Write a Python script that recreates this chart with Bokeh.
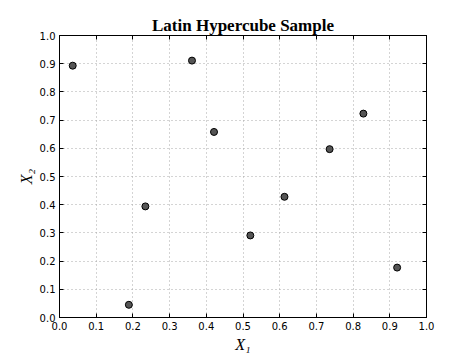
from bokeh.plotting import figure
from bokeh.models import LinearAxis, Range1d, FixedTicker
from bokeh.embed import file_html
from bokeh.resources import INLINE

x1 = [0.036, 0.361, 0.421, 0.736, 0.828, 0.234, 0.613, 0.520, 0.920, 0.189]
x2 = [0.893, 0.911, 0.658, 0.597, 0.723, 0.394, 0.428, 0.291, 0.177, 0.045]
ticks = [0.0, 0.1, 0.2, 0.3, 0.4, 0.5, 0.6, 0.7, 0.8, 0.9, 1.0]
tick_labels = {t: f"{t:.1f}" for t in ticks}

p = figure(width=474, height=355, output_backend="svg", toolbar_location=None,
           x_range=Range1d(0, 1), y_range=Range1d(0, 1),
           min_border_left=59, min_border_right=48, min_border_top=35, min_border_bottom=36,
           title="Latin Hypercube Sample")
p.title.align = "center"
p.title.text_font = "Liberation Serif"
p.title.text_font_style = "bold"
p.title.text_font_size = "17px"
p.title.text_color = "black"
p.title.offset = 0
p.title.standoff = 1

p.outline_line_color = "black"
p.outline_line_width = 1
p.background_fill_color = "white"
p.border_fill_color = "white"

for ax in (p.xaxis[0], p.yaxis[0]):
    ax.ticker = FixedTicker(ticks=ticks)
    ax.major_label_overrides = tick_labels
    ax.major_tick_in = 4
    ax.major_tick_out = 0
    ax.minor_tick_in = 0
    ax.minor_tick_out = 0
    ax.axis_line_color = "black"
    ax.major_tick_line_color = "black"
    ax.major_label_text_font = "DejaVu Sans"
    ax.major_label_text_font_size = "10px"
    ax.major_label_text_color = "black"
    ax.axis_label_text_font = "Liberation Serif"
    ax.axis_label_text_font_style = "italic"
    ax.axis_label_text_font_size = "16px"
    ax.axis_label_text_color = "black"

p.xaxis[0].axis_label = "X₁"
p.yaxis[0].axis_label = "X₂"
p.xaxis[0].major_label_standoff = 4
p.yaxis[0].major_label_standoff = 4
p.xaxis[0].axis_label_standoff = 3
p.yaxis[0].axis_label_standoff = 2

for loc in ("above", "right"):
    ax = LinearAxis(ticker=FixedTicker(ticks=ticks))
    ax.major_label_overrides = {t: "" for t in ticks}
    ax.major_tick_in = 4
    ax.major_tick_out = 0
    ax.minor_tick_in = 0
    ax.minor_tick_out = 0
    ax.axis_line_color = "black"
    ax.major_tick_line_color = "black"
    ax.major_label_standoff = 0
    p.add_layout(ax, loc)

for g in (p.xgrid[0], p.ygrid[0]):
    g.ticker = FixedTicker(ticks=ticks)
    g.grid_line_color = "#a8a8a8"
    g.grid_line_dash = "1 3"
    g.grid_line_width = 1

p.scatter(x1, x2, size=7, fill_color="#555555", line_color="black", line_width=1)

open("out.html", "w").write(file_html(p, INLINE))
